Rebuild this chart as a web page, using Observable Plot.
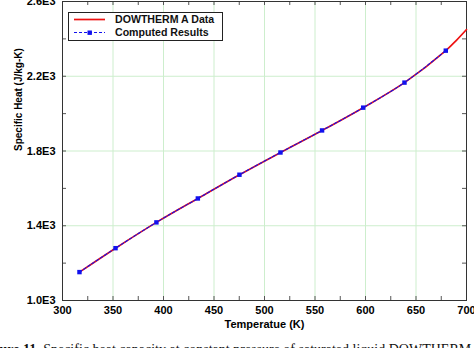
<!DOCTYPE html>
<html>
<head>
<meta charset="utf-8">
<script src="https://cdn.jsdelivr.net/npm/d3@7"></script>
<script src="https://cdn.jsdelivr.net/npm/@observablehq/plot@0.6"></script>
<style>
  html, body { margin: 0; padding: 0; background: #fff; overflow: hidden; width: 474px; height: 348px; }
  #wrap { position: relative; width: 474px; height: 348px; }
  #chart svg { font-family: "Liberation Sans", Arial, sans-serif; font-weight: bold; }
  #caption { position: absolute; left: -20px; top: 343px; font: 14px/14px "Liberation Serif", "Times New Roman", serif; white-space: nowrap; color: #111; }
  #caption b { font-weight: bold; }
</style>
</head>
<body>
<div id="wrap">
  <div id="chart"></div>
  <div id="caption"><b>Figure 11.</b> Specific heat capacity at constant pressure of saturated liquid DOWTHERM A</div>
</div>
<script>
// Computed results (blue squares)
const compTemps = [316.8, 352.5, 393, 434, 475.2, 515.8, 557, 597.7, 638.6, 679.5];
const compCp    = [1152, 1280, 1418, 1546, 1673, 1792, 1910, 2032, 2166, 2337];
// DOWTHERM A data (red line)
const dowTemps = [316.8, 352.5, 393, 434, 475.2, 515.8, 557, 597.7, 638.6, 679.5, 690, 700];
const dowCp    = [1152, 1280, 1418, 1546, 1673, 1792, 1910, 2032, 2166, 2337, 2392, 2450];
// Axis ticks
const xMajor = [300, 350, 400, 450, 500, 550, 600, 650, 700];
const xMinor = [325, 350, 375, 400, 425, 450, 475, 500, 525, 550, 575, 600, 625, 650, 675];
const yMajor = [1000, 1400, 1800, 2200, 2600];
const yMinor = [1200, 1400, 1600, 1800, 2000, 2200, 2400];
const seriesNames = ["DOWTHERM A Data", "Computed Results"];
const xLabel = "Temperatue (K)";
const yLabel = "Specific Heat (J/kg-K)";

const dow = dowTemps.map((t, i) => ({t, cp: dowCp[i]}));
const comp = compTemps.map((t, i) => ({t, cp: compCp[i]}));

const grid = "#cdeecd";
const red = "#ee1111";
const blue = "#1111ee";

const plot = Plot.plot({
  width: 474,
  height: 348,
  marginLeft: 62,
  marginRight: 8,
  marginTop: 1,
  marginBottom: 48,
  style: {fontSize: "11px", background: "transparent"},
  x: {domain: [300, 700]},
  y: {domain: [1000, 2600]},
  marks: [
    Plot.gridX(xMajor, {stroke: grid, strokeOpacity: 1, strokeWidth: 1}),
    Plot.gridY(yMajor, {stroke: grid, strokeOpacity: 1, strokeWidth: 1}),
    Plot.tickX(xMinor, {x: d => d, insetTop: 295, stroke: "#555"}),
    Plot.tickX(xMinor, {x: d => d, insetBottom: 295, stroke: "#555"}),
    Plot.tickY(yMinor, {y: d => d, insetLeft: 400, stroke: "#555"}),
    Plot.tickY(yMinor, {y: d => d, insetRight: 400, stroke: "#555"}),
    Plot.frame({stroke: "#333", strokeWidth: 1}),
    Plot.axisX(xMajor, {tickSize: 0, tickPadding: 6, label: null, fontSize: 11}),
    Plot.axisY(yMajor, {tickSize: 0, tickPadding: 7, label: null, fontSize: 11,
      tickFormat: d => (d / 1000).toFixed(1) + "E3"}),
    Plot.line(dow, {x: "t", y: "cp", stroke: red, strokeWidth: 1.7, curve: "catmull-rom"}),
    Plot.line(comp, {x: "t", y: "cp", stroke: blue, strokeWidth: 1.1, strokeDasharray: "3,2", curve: "catmull-rom"}),
    Plot.dot(comp, {x: "t", y: "cp", symbol: "square", r: 2.5, fill: blue, stroke: "none"}),
    Plot.text([xLabel], {frameAnchor: "bottom", dy: 27, fontSize: 11}),
    Plot.text([yLabel], {frameAnchor: "left", dx: -44, rotate: -90, fontSize: 10})
  ]
});
document.getElementById("chart").appendChild(plot);

// Legend inside the plot (upper left)
const svg = d3.select(plot);
const lg = svg.append("g").attr("class", "legend").attr("text-anchor", "start");
lg.append("rect").attr("x", 68.5).attr("y", 12.5).attr("width", 154).attr("height", 28)
  .attr("fill", "#fff").attr("stroke", "#222").attr("stroke-width", 1);
lg.append("line").attr("x1", 74).attr("x2", 105).attr("y1", 19.5).attr("y2", 19.5)
  .attr("stroke", red).attr("stroke-width", 1.7);
lg.append("line").attr("x1", 74).attr("x2", 105).attr("y1", 32.5).attr("y2", 32.5)
  .attr("stroke", blue).attr("stroke-width", 1.1).attr("stroke-dasharray", "3,2");
lg.append("rect").attr("x", 87.5).attr("y", 30.5).attr("width", 4.4).attr("height", 4.4).attr("fill", blue);
seriesNames.forEach((name, i) => {
  lg.append("text").attr("x", 115).attr("y", 19.5 + 13 * i).attr("dy", "0.35em")
    .attr("text-anchor", "start")
    .attr("font-size", "10.6px").attr("font-weight", "bold").attr("fill", "#111").text(name);
});
</script>
</body>
</html>
